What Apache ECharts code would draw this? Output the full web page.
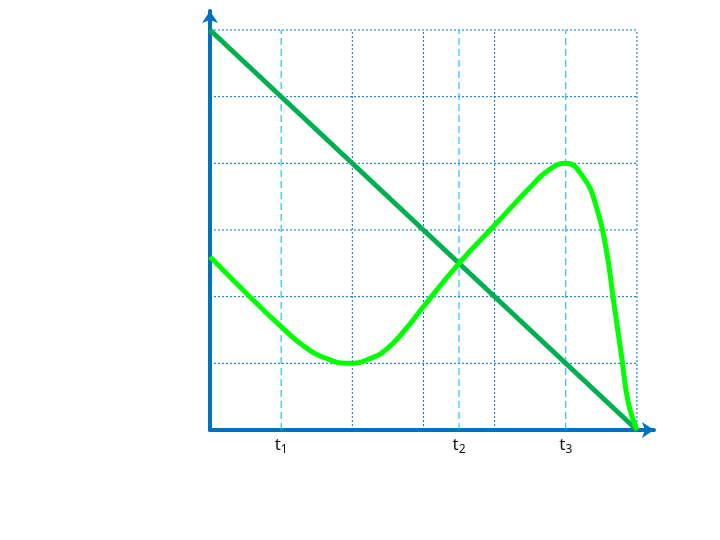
<!DOCTYPE html>
<html>
<head>
<meta charset="utf-8">
<script src="https://cdn.jsdelivr.net/npm/echarts@6/dist/echarts.min.js"></script>
<style>html,body{margin:0;padding:0;background:#fff}#c{width:720px;height:540px}</style>
</head>
<body>
<div id="c"></div>
<script>
// data
const lineX = [0, 6];
const lineY = [6, 0];
const curveX = [0, 0.56, 1, 1.33, 1.62, 1.95, 2.25, 2.49, 2.74, 3, 3.5, 4, 4.5, 4.75, 5, 5.24, 5.43, 5.57, 5.67, 5.785, 5.88, 6];
const curveY = [2.6, 2.0, 1.55, 1.25, 1.08, 1.0, 1.07, 1.22, 1.5, 1.85, 2.5, 3.07, 3.64, 3.89, 4.0, 3.8, 3.35, 2.7, 1.95, 1.1, 0.4, 0];
const hGridY = [1, 2, 3, 4, 5, 6];
const vDotX = [2, 3, 4, 6];
const vDashX = [1, 3.5, 5];
const tickPos = [1, 3.5, 5];
const tickSub = ['1', '2', '3'];
const xEnd = 6;
const yEnd = 6;

const blue = '#0070C0';
const cyan = '#00B0F0';

function gridSeries(p0, p1, color, dash) {
  return {
    type: 'line', z: 1, silent: true, showSymbol: false,
    data: [p0, p1],
    lineStyle: {color: color, width: 1, type: dash},
    emphasis: {disabled: true}
  };
}

const series = [];
hGridY.forEach(y => series.push(gridSeries([0, y], [xEnd, y], blue, [2, 2])));
vDotX.forEach(x => series.push(gridSeries([x, 0], [x, yEnd], blue, [2, 2])));
vDashX.forEach(x => series.push(gridSeries([x, 0], [x, yEnd], cyan, [7, 4])));
series.push({
  type: 'line', z: 3, showSymbol: false, silent: true,
  data: lineX.map((x, i) => [x, lineY[i]]),
  lineStyle: {color: '#00B050', width: 5}
});
series.push({
  type: 'line', z: 4, showSymbol: false, silent: true, smooth: 0.5,
  data: curveX.map((x, i) => [x, curveY[i]]),
  lineStyle: {color: '#00FF00', width: 5}
});

const chart = echarts.init(document.getElementById('c'));
chart.setOption({
  animation: false,
  backgroundColor: '#fff',
  grid: {left: 210, right: 66, top: 11, bottom: 110, containLabel: false},
  xAxis: {
    type: 'value', min: 0, max: 6.24, interval: 0.5,
    splitLine: {show: false},
    axisTick: {show: false},
    axisLine: {show: true, lineStyle: {color: blue, width: 4}, symbol: ['none', 'arrow'], symbolSize: [12, 12]},
    axisLabel: {
      show: true, margin: 4, showMaxLabel: false,
      formatter: function (v) {
        const i = tickPos.indexOf(v);
        return i >= 0 ? '{t|t}{s|' + tickSub[i] + '}' : '';
      },
      rich: {
        t: {fontSize: 17, fontFamily: 'Noto Sans', color: '#111', lineHeight: 22, verticalAlign: 'middle'},
        s: {fontSize: 12, fontFamily: 'Noto Sans', color: '#111', lineHeight: 12, verticalAlign: 'bottom'}
      }
    }
  },
  yAxis: {
    type: 'value', min: 0, max: 6.285, interval: 1,
    splitLine: {show: false},
    axisTick: {show: false},
    axisLabel: {show: false},
    axisLine: {show: true, lineStyle: {color: blue, width: 4}, symbol: ['none', 'arrow'], symbolSize: [12, 12]}
  },
  series: series
});
</script>
</body>
</html>
